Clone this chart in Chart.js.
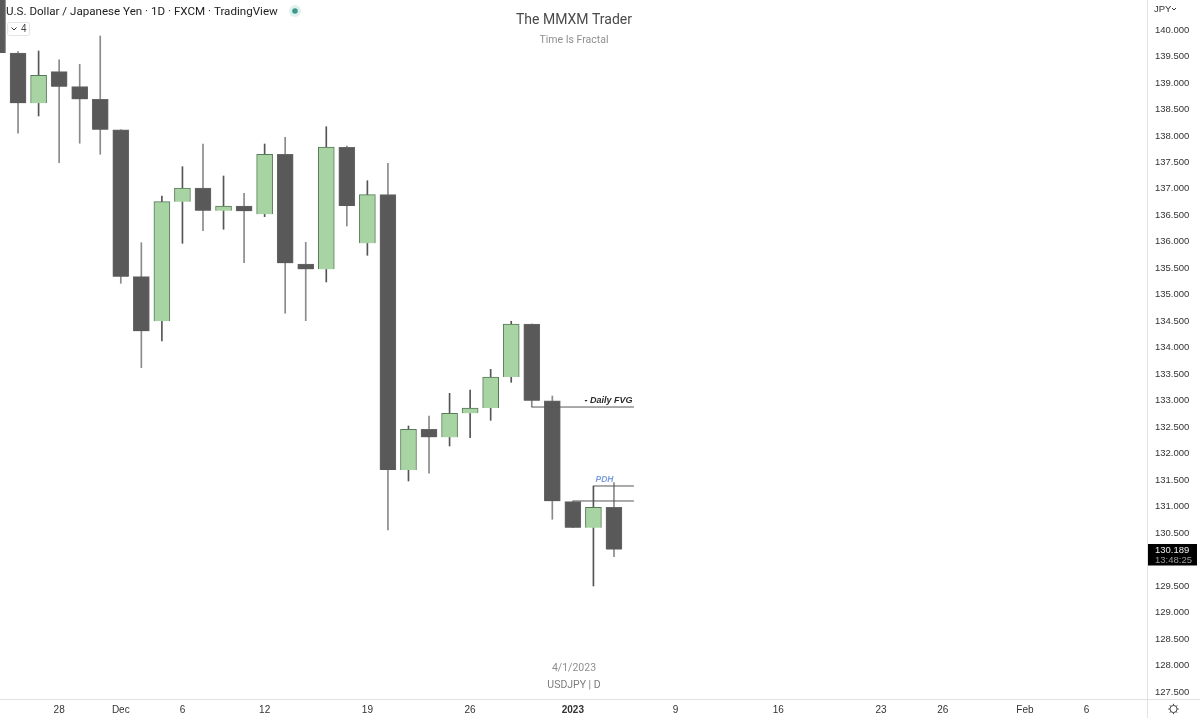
<!DOCTYPE html>
<html>
<head>
<meta charset="utf-8">
<title>USDJPY</title>
<style>
  html, body { margin: 0; padding: 0; background: #fff; }
  canvas { display: block; }
</style>
</head>
<body>
<canvas id="chart" width="1200" height="718"></canvas>
<script src="https://cdn.jsdelivr.net/npm/chart.js@4/dist/chart.umd.min.js"></script>
<script>
// first candle is the one cut off by the left edge of the screenshot
const opens = [141.0, 139.566, 138.616, 139.213, 138.929, 138.691, 138.117, 135.342, 134.5, 136.758, 137.017, 136.588, 136.677, 136.52, 137.653, 135.582, 135.481, 137.785, 135.972, 136.89, 131.692, 132.46, 132.309, 132.762, 132.863, 133.448, 134.449, 133.0, 131.094, 130.602, 130.988];
const closes = [139.566, 138.616, 139.145, 138.929, 138.691, 138.117, 135.342, 134.311, 136.758, 137.017, 136.588, 136.677, 136.577, 137.653, 135.595, 135.481, 137.791, 136.677, 136.89, 131.692, 132.46, 132.309, 132.762, 132.863, 133.448, 134.449, 133.0, 131.101, 130.602, 130.988, 130.189];
const highs = [141.2, 139.59, 139.603, 139.434, 139.352, 139.887, 138.117, 135.984, 136.866, 137.419, 137.847, 137.243, 136.917, 137.847, 137.974, 135.991, 138.174, 137.81, 137.154, 137.483, 132.523, 132.712, 133.14, 133.202, 133.593, 134.5, 134.449, 133.089, 131.107, 131.39, 131.452];
const lows = [139.566, 138.05, 138.376, 137.494, 137.861, 137.653, 135.217, 133.624, 134.128, 135.972, 136.21, 136.237, 135.606, 136.475, 134.651, 134.511, 135.242, 136.299, 135.746, 130.559, 131.484, 131.63, 132.145, 132.302, 132.63, 133.348, 132.881, 130.761, 130.602, 129.502, 130.055];

const yTicks = [127.5, 128, 128.5, 129, 129.5, 130, 130.5, 131, 131.5, 132, 132.5, 133, 133.5, 134, 134.5, 135, 135.5, 136, 136.5, 137, 137.5, 138, 138.5, 139, 139.5, 140];
const xTickSlots = [3, 6, 9, 13, 18, 23, 28, 33, 38, 43, 46, 50, 53];
const xTickLabels = ['28', 'Dec', '6', '12', '19', '26', '2023', '9', '16', '23', '26', 'Feb', '6'];

const fvgLevel = 132.881;
const pdhLevel = 131.39;
const pdlLevel = 131.107;
const lastPrice = 130.189;
const countdown = '13:48:25';

const GREEN = '#a8d4a3';
const GREEN_EDGE = '#557a58';
const DARK = '#595959';
const DARK_EDGE = '#666666';
const FONT = '"Liberation Sans", Arial, sans-serif';
const ROBOTO = 'Roboto, Arial, sans-serif';

const isUp = i => closes[i] >= opens[i];
const slots = opens.map((o, i) => i);
const levelLine = (from, to, y) => ({
  type: 'line',
  data: [{ x: from, y }, { x: to, y }],
  borderColor: '#555555',
  borderWidth: 1,
  pointRadius: 0,
  order: 0,
});

const text = (ctx, str, x, y, font, color, align = 'left') => {
  ctx.font = font;
  ctx.fillStyle = color;
  ctx.textAlign = align;
  ctx.textBaseline = 'middle';
  ctx.fillText(str, x, y);
};

const drawGear = (ctx, cx, cy) => {
  ctx.strokeStyle = '#444';
  ctx.lineWidth = 1;
  ctx.beginPath();
  ctx.arc(cx, cy, 3.6, 0, Math.PI * 2);
  ctx.stroke();
  for (let i = 0; i < 8; i += 1) {
    const a = (i * Math.PI) / 4;
    ctx.beginPath();
    ctx.moveTo(cx + Math.cos(a) * 3.6, cy + Math.sin(a) * 3.6);
    ctx.lineTo(cx + Math.cos(a) * 5.2, cy + Math.sin(a) * 5.2);
    ctx.stroke();
  }
};

const overlay = {
  id: 'overlay',
  afterDraw(chart) {
    const { ctx, scales: { x, y } } = chart;
    ctx.save();

    // panel separators
    ctx.strokeStyle = '#e2e2e2';
    ctx.lineWidth = 1;
    ctx.beginPath();
    ctx.moveTo(1147.5, 0);
    ctx.lineTo(1147.5, 718);
    ctx.moveTo(0, 699.5);
    ctx.lineTo(1200, 699.5);
    ctx.stroke();

    // header
    text(ctx, 'U.S. Dollar / Japanese Yen · 1D · FXCM · TradingView', 6, 12, `11.6px ${ROBOTO}`, '#222222');
    ctx.fillStyle = '#dff1ee';
    ctx.beginPath();
    ctx.arc(295, 11, 6, 0, Math.PI * 2);
    ctx.fill();
    ctx.fillStyle = '#3d9a8b';
    ctx.beginPath();
    ctx.arc(295, 11, 2.8, 0, Math.PI * 2);
    ctx.fill();

    // collapsed indicators box
    ctx.strokeStyle = '#e4e4e4';
    ctx.beginPath();
    ctx.roundRect(7.5, 22.5, 22, 13, 2);
    ctx.stroke();
    ctx.strokeStyle = '#333';
    ctx.beginPath();
    ctx.moveTo(11.5, 27.5);
    ctx.lineTo(14, 30);
    ctx.lineTo(16.5, 27.5);
    ctx.stroke();
    text(ctx, '4', 21, 29.5, `10px ${FONT}`, '#444444');

    // watermark
    text(ctx, 'The MMXM Trader', 574, 20, `14px ${ROBOTO}`, '#4a4a4a', 'center');
    text(ctx, 'Time Is Fractal', 574, 40, `10.5px ${ROBOTO}`, '#8f8f8f', 'center');
    text(ctx, '4/1/2023', 574, 668, `10.5px ${ROBOTO}`, '#8f8f8f', 'center');
    text(ctx, 'USDJPY | D', 574, 685, `10.5px ${ROBOTO}`, '#7d7d7d', 'center');

    // drawing labels
    text(ctx, '- Daily FVG', x.getPixelForValue(30.9), y.getPixelForValue(fvgLevel) - 7, `italic bold 9px ${FONT}`, '#2a2a2a', 'right');
    text(ctx, 'PDH', x.getPixelForValue(29.1), y.getPixelForValue(pdhLevel) - 6, `italic bold 8.5px ${FONT}`, '#7c9fdb');

    // price scale header, last price badge and settings
    text(ctx, 'JPY', 1154, 9.5, `9.5px ${FONT}`, '#333333');
    ctx.strokeStyle = '#333';
    ctx.beginPath();
    ctx.moveTo(1172, 8);
    ctx.lineTo(1174, 10);
    ctx.lineTo(1176, 8);
    ctx.stroke();
    const badgeY = y.getPixelForValue(lastPrice);
    ctx.fillStyle = '#000000';
    ctx.fillRect(1148, badgeY - 5.6, 49, 21.5);
    text(ctx, lastPrice.toFixed(3), 1155, badgeY + 0.4, `9.5px ${FONT}`, '#eeeeee');
    text(ctx, countdown, 1155, badgeY + 10.4, `9.5px ${FONT}`, '#9a9a9a');
    drawGear(ctx, 1173.5, 709);

    ctx.restore();
  },
};

new Chart(document.getElementById('chart'), {
  data: {
    datasets: [
      {
        type: 'bar',
        grouped: false,
        order: 2,
        barThickness: 1,
        data: slots.map(i => ({ x: i, y: [lows[i], highs[i]] })),
        backgroundColor: slots.map(i => (isUp(i) ? '#555555' : '#8a8a8a')),
      },
      {
        type: 'bar',
        grouped: false,
        order: 1,
        barThickness: 16,
        data: slots.map(i => ({ x: i, y: [opens[i], closes[i]] })),
        backgroundColor: slots.map(i => (isUp(i) ? GREEN : DARK)),
        borderColor: slots.map(i => (isUp(i) ? GREEN_EDGE : DARK_EDGE)),
        borderWidth: 1,
      },
      levelLine(26, 30.97, fvgLevel),
      levelLine(29, 30.97, pdhLevel),
      levelLine(28, 30.97, pdlLevel),
    ],
  },
  options: {
    responsive: false,
    animation: false,
    layout: { padding: 0 },
    plugins: { legend: { display: false }, tooltip: { enabled: false } },
    scales: {
      x: {
        type: 'linear',
        offset: false,
        min: 0.1217,
        max: 55.94,
        grid: { display: false, drawTicks: false },
        border: { display: false },
        afterBuildTicks: (scale) => { scale.ticks = xTickSlots.map(value => ({ value })); },
        afterFit: (scale) => { scale.height = 19; scale.paddingLeft = 0; scale.paddingRight = 0; },
        ticks: {
          autoSkip: false,
          maxRotation: 0,
          padding: 5,
          color: '#333333',
          font: ctx => ({ family: FONT, size: 10, weight: ctx.tick && ctx.tick.label === '2023' ? 'bold' : 'normal' }),
          callback: (value, index) => xTickLabels[index],
        },
      },
      y: {
        position: 'right',
        min: 127.368,
        max: 140.566,
        grid: { display: false, drawTicks: false },
        border: { display: false },
        afterBuildTicks: (scale) => { scale.ticks = yTicks.map(value => ({ value })); },
        afterFit: (scale) => { scale.width = 53; scale.paddingTop = 0; scale.paddingBottom = 0; },
        ticks: {
          autoSkip: false,
          padding: 8,
          color: '#333333',
          font: { family: FONT, size: 9.5 },
          callback: value => value.toFixed(3),
        },
      },
    },
  },
  plugins: [overlay],
});
</script>
</body>
</html>
